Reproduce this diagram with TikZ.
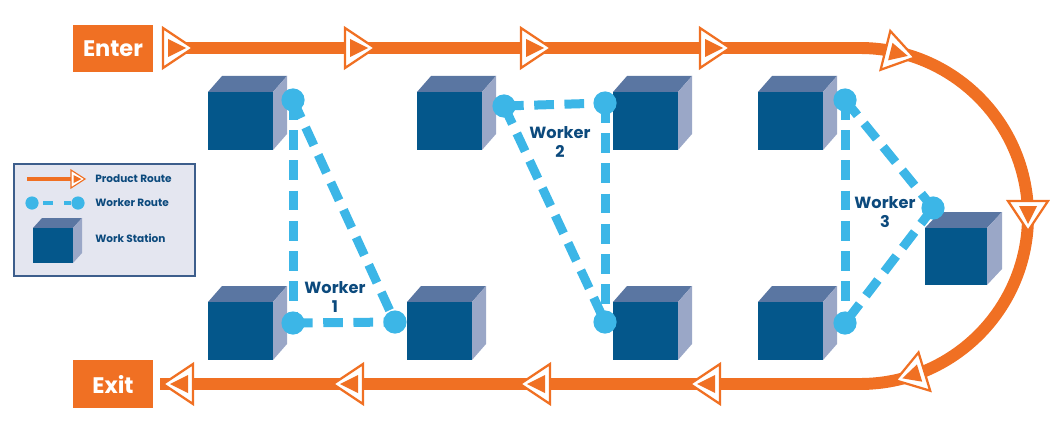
\documentclass[tikz,border=0pt]{standalone}
\usepackage{fontspec}
\setmainfont{Poppins}
\usetikzlibrary{backgrounds}
\definecolor{orng}{HTML}{F07023}
\definecolor{lblue}{HTML}{3CB6E7}
\definecolor{cfront}{HTML}{04578B}
\definecolor{ctop}{HTML}{5A76A2}
\definecolor{cside}{HTML}{9AA7C7}
\definecolor{txtblue}{HTML}{0C4A7D}
\definecolor{legfill}{HTML}{E4E6F0}
\definecolor{legdraw}{HTML}{3D5E8C}
\newcommand\wscube[6]{%
  \fill[ctop] (#1,#2) -- ++(#5,-#6) -- ++(#3,0) -- ++(-#5,#6) -- cycle;
  \fill[cside] (#1+#3,#2) -- ++(#5,-#6) -- ++(0,#4) -- ++(-#5,#6) -- cycle;
  \fill[cfront] (#1,#2) rectangle ++(#3,#4);
}
\tikzset{
  route/.style={draw=orng, line width=8.5pt},
  ptri/.pic={
    \filldraw[fill=white, draw=orng, line width=1.6pt, line join=miter] (15,0) -- (-15,20) -- (-15,-20) -- cycle;
    \fill[orng] (8,0) -- (-10,9) -- (-10,-9) -- cycle;
  },
  ptrismall/.pic={
    \filldraw[fill=white, draw=orng, line width=0.8pt, line join=miter] (7,0) -- (-7,9) -- (-7,-9) -- cycle;
    \fill[orng] (3.5,0) -- (-4.5,4) -- (-4.5,-4) -- cycle;
  },
  wdot/.style={circle, fill=lblue, minimum size=0.58cm, inner sep=0pt},
  ldot/.style={circle, fill=lblue, minimum size=0.33cm, inner sep=0pt},
  wpath/.style={draw=lblue, line width=6.4pt, dash pattern=on 14pt off 7.5pt},
  wlabel/.style={text=txtblue, font=\bfseries\fontsize{11.5}{14}\selectfont, align=center, inner sep=0pt},
  endbox/.style={fill=orng, text=white, font=\bfseries\fontsize{16}{18}\selectfont, minimum width=2cm, minimum height=1.18cm, inner sep=0pt},
  legtext/.style={text=txtblue, font=\bfseries\fontsize{7.5}{9}\selectfont, anchor=west, inner sep=0pt},
}
\begin{document}
\begin{tikzpicture}[x=0.025cm, y=-0.025cm]
\useasboundingbox (0,0) rectangle (1050,440);

% product route
\coordinate (rs) at (163,48);
\coordinate (re) at (860,48);
\coordinate (bs) at (160,384);
\draw[route] (rs) -- (re) arc[start angle=-90, end angle=90, radius=168] -- (bs);
\pic at (178,48) {ptri};
\pic at (360,48) {ptri};
\pic at (536,48) {ptri};
\pic at (715,48) {ptri};
\pic[rotate=-14] at (900,54) {ptri};
\pic[rotate=-90] at (1028,216) {ptri};
\pic[rotate=197] at (910,376) {ptri};
\pic[rotate=180] at (178,384) {ptri};
\pic[rotate=180] at (348,384) {ptri};
\pic[rotate=180] at (535,384) {ptri};
\pic[rotate=180] at (705,384) {ptri};

\node[endbox] (enter) at (113,48.5) {Enter};
\node[endbox] (exit) at (113,384) {Exit};

% work stations
\wscube{208}{92}{65}{58}{14}{16}
\wscube{208}{302}{65}{58}{14}{16}
\wscube{407}{302}{65}{58}{14}{16}
\wscube{417}{92}{65}{58}{14}{16}
\wscube{613}{92}{65}{58}{14}{16}
\wscube{613}{302}{65}{58}{14}{16}
\wscube{758}{92}{65}{58}{14}{16}
\wscube{758}{302}{65}{58}{14}{16}
\wscube{925}{228}{62}{57}{15}{16}

% worker routes
\node[wdot] (w1a) at (293,100) {};
\node[wdot] (w1b) at (293,323) {};
\node[wdot] (w1c) at (395,322) {};
\node[wdot] (w2a) at (504,106) {};
\node[wdot] (w2b) at (605,103) {};
\node[wdot] (w2c) at (605,322) {};
\node[wdot] (w3a) at (845,100) {};
\node[wdot] (w3b) at (933,208) {};
\node[wdot] (w3c) at (845,323) {};
\begin{scope}[on background layer]
\draw[wpath] (w1a.center) -- (w1b.center);
\draw[wpath] (w1b.center) -- (w1c.center);
\draw[wpath] (w1a.center) -- (w1c.center);
\draw[wpath] (w2a.center) -- (w2b.center);
\draw[wpath] (w2b.center) -- (w2c.center);
\draw[wpath] (w2a.center) -- (w2c.center);
\draw[wpath] (w3a.center) -- (w3c.center);
\draw[wpath] (w3a.center) -- (w3b.center);
\draw[wpath] (w3b.center) -- (w3c.center);
\end{scope}
\node[wlabel] (lab1) at (335,297) {Worker\\1};
\node[wlabel] (lab2) at (560,142) {Worker\\2};
\node[wlabel] (lab3) at (885,212) {Worker\\3};

% legend
\draw[legdraw, fill=legfill, line width=1.2pt] (14,164) rectangle (195,276);
\coordinate (lps) at (27,179);
\coordinate (lpe) at (74,179);
\draw[orng, line width=3.5pt] (lps) -- (lpe);
\pic at (78,179) {ptrismall};
\node[ldot] (la) at (32,203) {};
\node[ldot] (lb) at (78,203) {};
\draw[lblue, line width=2.4pt, dash pattern=on 0pt off 3.2pt on 7.1pt off 7.8pt on 20pt] (la.east) -- (lb.west);
\wscube{33}{228}{40}{35}{9}{10}
\node[legtext] (lt1) at (95,179) {Product Route};
\node[legtext] (lt2) at (95,203) {Worker Route};
\node[legtext] (lt3) at (95,238) {Work Station};
\end{tikzpicture}
\end{document}
